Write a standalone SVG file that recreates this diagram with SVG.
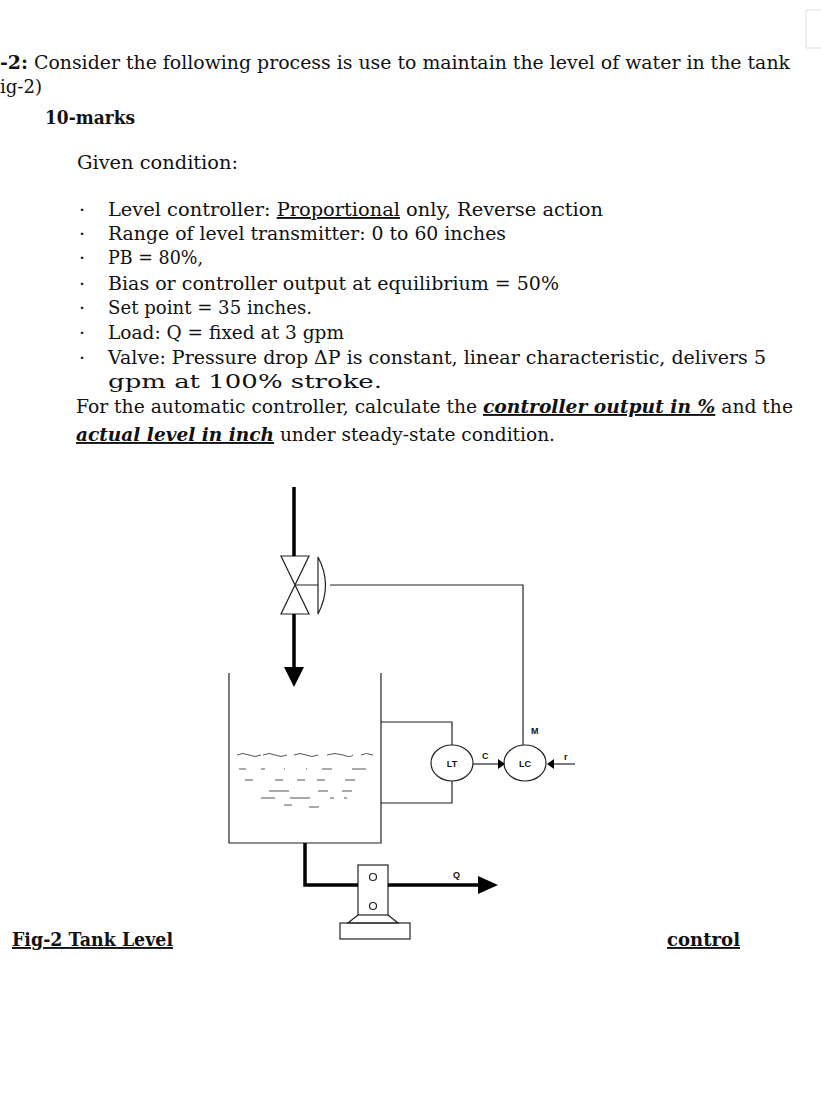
<svg xmlns="http://www.w3.org/2000/svg" width="821" height="1114" viewBox="0 0 821 1114">
<style>
text{font-family:"DejaVu Serif","Liberation Serif",serif;font-size:19px;fill:#111}
.b{font-weight:bold}
.s{font-family:"Liberation Sans",Arial,sans-serif;font-size:9px;font-weight:bold}
.t{fill:none;stroke:#222;stroke-width:1.2}
.p{fill:none;stroke:#000;stroke-width:3.5}
</style>
<rect width="821" height="1114" fill="#fff"/>
<path d="M806 10H821M806 10V48H821" fill="none" stroke="#ddd"/>
<g id="text">
<text x="0" y="69" textLength="790" lengthAdjust="spacingAndGlyphs"><tspan class="b">-2:</tspan> Consider the following process is use to maintain the level of water in the tank</text>
<text x="0" y="93" textLength="42" lengthAdjust="spacingAndGlyphs">ig-2)</text>
<text x="45" y="124" class="b" textLength="90" lengthAdjust="spacingAndGlyphs">10-marks</text>
<text x="77" y="169" textLength="161" lengthAdjust="spacingAndGlyphs">Given condition:</text>
<g>
<text x="79" y="216">·</text><text x="79" y="240">·</text><text x="79" y="264">·</text><text x="79" y="290">·</text><text x="79" y="314">·</text><text x="79" y="339">·</text><text x="79" y="364">·</text>
</g>
<text x="108" y="216" textLength="495" lengthAdjust="spacingAndGlyphs">Level controller: <tspan text-decoration="underline">Proportional</tspan> only, Reverse action</text>
<text x="108" y="240" textLength="398" lengthAdjust="spacingAndGlyphs">Range of level transmitter: 0 to 60 inches</text>
<text x="108" y="264" textLength="95" lengthAdjust="spacingAndGlyphs">PB = 80%,</text>
<text x="108" y="290" textLength="451" lengthAdjust="spacingAndGlyphs">Bias or controller output at equilibrium = 50%</text>
<text x="108" y="314" textLength="204" lengthAdjust="spacingAndGlyphs">Set point = 35 inches.</text>
<text x="108" y="339" textLength="236" lengthAdjust="spacingAndGlyphs">Load: Q = fixed at 3 gpm</text>
<text x="108" y="364" textLength="658" lengthAdjust="spacingAndGlyphs">Valve: Pressure drop ΔP is constant, linear characteristic, delivers 5</text>
<text x="108" y="388" textLength="274" lengthAdjust="spacingAndGlyphs">gpm at    100% stroke.</text>
<text x="76" y="413" textLength="717" lengthAdjust="spacingAndGlyphs">For the automatic controller, calculate the <tspan class="b" font-style="italic" text-decoration="underline">controller output in %</tspan> and the</text>
<text x="76" y="441" textLength="479" lengthAdjust="spacingAndGlyphs"><tspan class="b" font-style="italic" text-decoration="underline">actual level in inch</tspan> under steady-state condition.</text>
<text x="12" y="946" class="b" text-decoration="underline" textLength="161" lengthAdjust="spacingAndGlyphs">Fig-2 Tank Level</text>
<text x="667" y="946" class="b" text-decoration="underline" textLength="73" lengthAdjust="spacingAndGlyphs">control</text>
</g>
<g id="tank">
<path class="t" d="M229 673V843H381V673"/>
<g stroke="#555" stroke-width="1" fill="none">
<path d="M237 755q6-3 12 0t12 0M263 755q6-3 12 0t12 0M294 755q6-3 12 0t12 0M327 755q8-3 16 0t10 0M361 755q5-3 12 0"/>
<path d="M239 769h7M261 769h4M284 769h1M306 769h1M322 769h10M352 769h14M245 780h8M275 780h8M297 780h8M317 780h8M345 780h10M269 791h20M318 791h10M342 791h10M261 798h14M290 798h20M330 798h4M344 798h3M284 805h8M309 807h10"/>
</g>
</g>
<g id="valve">
<path class="t" d="M281 556H309L281 614H309Z"/>
<path class="t" d="M294 585H318M318 557Q333 585 318 614Z"/>
</g>
<g id="LT"><ellipse class="t" cx="452" cy="763" rx="21" ry="18"/><text class="s" x="452" y="767" text-anchor="middle">LT</text></g>
<g id="LC"><ellipse class="t" cx="525" cy="763" rx="21" ry="18"/><text class="s" x="525" y="767" text-anchor="middle">LC</text></g>
<g id="pump">
<rect class="t" x="358" y="865" width="30" height="50" fill="#fff"/>
<circle class="t" cx="373" cy="877" r="3.5"/><circle class="t" cx="373" cy="906" r="3.5"/>
<path class="t" d="M358 915L348 923H398L388 915"/>
<rect class="t" x="340" y="923" width="70" height="16"/>
</g>
<g id="connectors">
<path class="p" d="M294 487V556M294 614V668"/>
<path d="M284 667H304L294 687Z"/>
<path class="p" d="M305 843V885H358M388 885H480"/>
<path d="M478 876L498 885L478 894Z"/>
<path class="t" d="M330 585H523V745M381 722H452V745M452 781V803H381"/>
<path class="t" d="M473 764H500"/><path d="M498 759L505 764L498 769Z"/>
<path class="t" d="M575 764H550"/><path d="M554 759L547 764L554 769Z"/>
<text class="s" x="531" y="734">M</text>
<text class="s" x="482" y="759">C</text>
<text class="s" x="564" y="760">r</text>
<text class="s" x="453" y="878">Q</text>
</g>
</svg>
